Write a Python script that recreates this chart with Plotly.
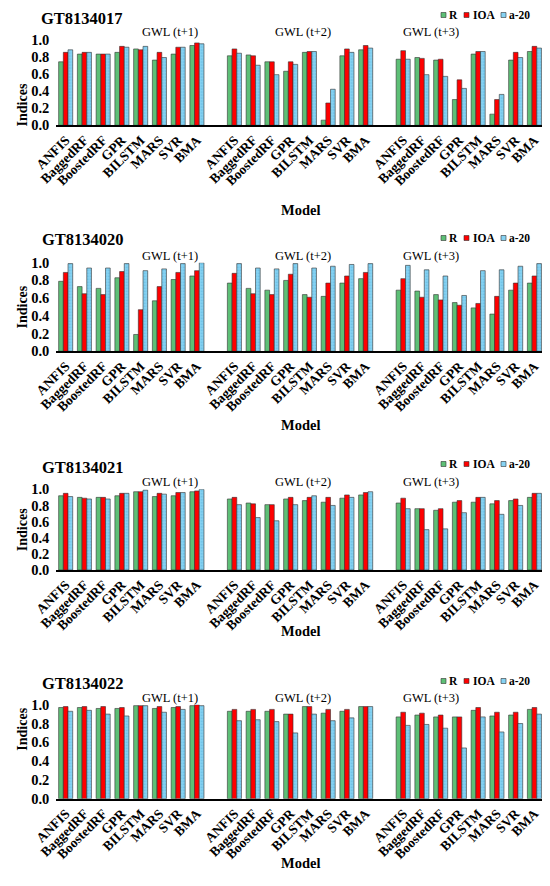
import plotly.graph_objects as go
from plotly.subplots import make_subplots

# the page puts the plot 8px in from the top-left corner
OFF = 8
W, H = 550 - OFF, 886 - OFF

models = ["ANFIS", "BaggedRF", "BoostedRF", "GPR", "BILSTM", "MARS", "SVR", "BMA"]
horizons = ["GWL (t+1)", "GWL (t+2)", "GWL (t+3)"]
stations = ["GT8134017", "GT8134020", "GT8134021", "GT8134022"]

# each list: t+1 (8 models), t+2 (8 models), t+3 (8 models)
r_017 = [0.74, 0.83, 0.83, 0.85, 0.89, 0.76, 0.83, 0.93,
         0.81, 0.82, 0.74, 0.63, 0.85, 0.06, 0.81, 0.88,
         0.77, 0.79, 0.76, 0.30, 0.83, 0.13, 0.76, 0.86]
ioa_017 = [0.85, 0.85, 0.83, 0.92, 0.88, 0.85, 0.91, 0.96,
           0.89, 0.81, 0.74, 0.74, 0.86, 0.26, 0.89, 0.93,
           0.87, 0.78, 0.77, 0.53, 0.86, 0.30, 0.85, 0.92]
a20_017 = [0.88, 0.85, 0.83, 0.91, 0.92, 0.79, 0.91, 0.95,
           0.84, 0.70, 0.59, 0.71, 0.86, 0.42, 0.85, 0.90,
           0.77, 0.59, 0.57, 0.43, 0.86, 0.36, 0.79, 0.90]

r_020 = [0.79, 0.73, 0.71, 0.83, 0.19, 0.57, 0.81, 0.85,
         0.77, 0.71, 0.69, 0.80, 0.64, 0.62, 0.77, 0.82,
         0.69, 0.68, 0.64, 0.55, 0.49, 0.42, 0.69, 0.77]
ioa_020 = [0.89, 0.65, 0.64, 0.90, 0.47, 0.73, 0.89, 0.91,
           0.88, 0.65, 0.64, 0.87, 0.61, 0.77, 0.85, 0.89,
           0.82, 0.61, 0.58, 0.52, 0.54, 0.62, 0.77, 0.85]
a20_020 = [0.99, 0.94, 0.94, 0.99, 0.91, 0.93, 0.99, 1.00,
           0.99, 0.94, 0.93, 0.99, 0.94, 0.96, 0.98, 0.99,
           0.97, 0.92, 0.85, 0.63, 0.91, 0.92, 0.96, 0.99]

r_021 = [0.92, 0.90, 0.90, 0.92, 0.97, 0.91, 0.92, 0.97,
         0.88, 0.83, 0.81, 0.88, 0.86, 0.84, 0.89, 0.93,
         0.83, 0.76, 0.74, 0.84, 0.84, 0.82, 0.86, 0.90]
ioa_021 = [0.95, 0.89, 0.90, 0.95, 0.97, 0.95, 0.96, 0.98,
           0.90, 0.82, 0.81, 0.90, 0.90, 0.90, 0.93, 0.96,
           0.89, 0.76, 0.76, 0.86, 0.90, 0.86, 0.88, 0.95]
a20_021 = [0.91, 0.88, 0.88, 0.95, 0.99, 0.94, 0.96, 1.00,
           0.81, 0.65, 0.61, 0.81, 0.92, 0.80, 0.90, 0.97,
           0.76, 0.50, 0.51, 0.71, 0.90, 0.69, 0.80, 0.95]

r_022 = [0.97, 0.97, 0.96, 0.96, 0.99, 0.96, 0.97, 0.99,
         0.93, 0.93, 0.93, 0.90, 0.98, 0.91, 0.93, 0.98,
         0.87, 0.89, 0.87, 0.87, 0.94, 0.88, 0.89, 0.95]
ioa_022 = [0.98, 0.98, 0.98, 0.97, 0.99, 0.98, 0.98, 1.00,
           0.95, 0.95, 0.95, 0.90, 0.98, 0.95, 0.95, 0.98,
           0.92, 0.91, 0.89, 0.87, 0.97, 0.92, 0.92, 0.97]
a20_022 = [0.93, 0.94, 0.90, 0.88, 0.99, 0.92, 0.95, 0.99,
           0.83, 0.84, 0.82, 0.70, 0.90, 0.83, 0.86, 0.98,
           0.78, 0.79, 0.75, 0.54, 0.87, 0.71, 0.80, 0.90]

panels = [(r_017, ioa_017, a20_017), (r_020, ioa_020, a20_020),
          (r_021, ioa_021, a20_021), (r_022, ioa_022, a20_022)]

GREEN, RED, BLUE = "#5dbf76", "#ff0000", "#86d2f2"
FONT = "Liberation Serif"

# a blank slot between the horizon groups
xpos = [g * 9 + i for g in range(3) for i in range(8)]
ticktext = models * 3


def fx(px):
    return (px - OFF) / W


def fy(py):
    return 1 - (py - OFF) / H


# pixel layout of each panel: (top of plot, bottom of plot, title y, legend y, model y)
rows = [(39.5, 125.3, 14, 15, 200),
        (262.7, 351.3, 240, 238, 425),
        (489.3, 570.0, 467, 464, 641),
        (704.7, 798.7, 683, 681, 873)]

fig = make_subplots(rows=4, cols=1)

for k, (r, ioa, a20) in enumerate(panels):
    row = k + 1
    line = dict(color="#333333", width=0.6)
    fig.add_trace(go.Bar(x=xpos, y=r, name="R", marker=dict(color=GREEN, line=line),
                         showlegend=False), row=row, col=1)
    fig.add_trace(go.Bar(x=xpos, y=ioa, name="IOA", marker=dict(color=RED, line=line),
                         showlegend=False), row=row, col=1)
    fig.add_trace(go.Bar(x=xpos, y=a20, name="a-20",
                         marker=dict(color=BLUE, line=line,
                                     pattern=dict(shape=".", fgcolor="#3f9fd0", bgcolor=BLUE,
                                                  size=3, solidity=0.25)),
                         showlegend=False), row=row, col=1)

    top, bot, ty, ly, my = rows[k]
    fig.update_xaxes(domain=[fx(56.3), fx(543.8)], range=[-0.5, 25.5],
                     tickmode="array", tickvals=xpos, ticktext=ticktext, tickangle=-45,
                     tickfont=dict(family=FONT, size=13.5, color="black", weight="bold"),
                     showline=True, linecolor="black", linewidth=1.5, showgrid=False,
                     ticks="", zeroline=False, automargin=False, row=row, col=1)
    fig.update_yaxes(domain=[fy(bot), fy(top)], range=[0, 1.0], dtick=0.2, tickformat=".1f",
                     tickfont=dict(family=FONT, size=14.5, color="black", weight="bold"),
                     ticklabelstandoff=6,
                     showline=False, showgrid=False, zeroline=False, ticks="",
                     automargin=False, row=row, col=1)

    if k == 0:
        # first title sits right at the top edge of the page
        fig.add_annotation(x=fx(40), y=1.0, xref="paper", yref="paper", text=stations[k],
                           showarrow=False, xanchor="left", yanchor="top", borderpad=0,
                           font=dict(family=FONT, size=16.5, color="black", weight="bold"))
    else:
        fig.add_annotation(x=fx(40), y=fy(ty), xref="paper", yref="paper", text=stations[k],
                           showarrow=False, xanchor="left", yanchor="middle",
                           font=dict(family=FONT, size=16.5, color="black", weight="bold"))
    fig.add_annotation(x=fx(14), y=fy((top + bot) / 2), xref="paper", yref="paper",
                       text="Indices", textangle=-90, showarrow=False, borderpad=0,
                       font=dict(family=FONT, size=14, color="black", weight="bold"))
    fig.add_annotation(x=fx(300), y=fy(my), xref="paper", yref="paper", text="Model",
                       showarrow=False, font=dict(family=FONT, size=14.5, color="black", weight="bold"))
    for hx, htxt in zip([140, 303, 461], horizons):
        fig.add_annotation(x=fx(hx), y=fy(top - 7), xref="paper", yref="paper", text=htxt,
                           showarrow=False, yanchor="middle",
                           font=dict(family=FONT, size=12.5, color="black"))

    # legend swatches
    for sx, tx, col, lab in [(441, 447, GREEN, "R"), (464, 471, RED, "IOA"), (501, 507, BLUE, "a-20")]:
        fig.add_shape(type="rect", xref="paper", yref="paper",
                      x0=fx(sx), x1=fx(sx + 5), y0=fy(ly + 2.5), y1=fy(ly - 2.5),
                      fillcolor=col, line=dict(color="#333333", width=0.6))
        fig.add_annotation(x=fx(tx), y=fy(ly), xref="paper", yref="paper", text=lab,
                           showarrow=False, xanchor="left", yanchor="middle",
                           font=dict(family=FONT, size=11.5, color="black", weight="bold"))

fig.update_layout(width=W, height=H, margin=dict(l=0, r=0, t=0, b=0),
                  barmode="group", bargap=0.25, bargroupgap=0,
                  plot_bgcolor="white", paper_bgcolor="white", showlegend=False)

fig.write_html("out.html")
